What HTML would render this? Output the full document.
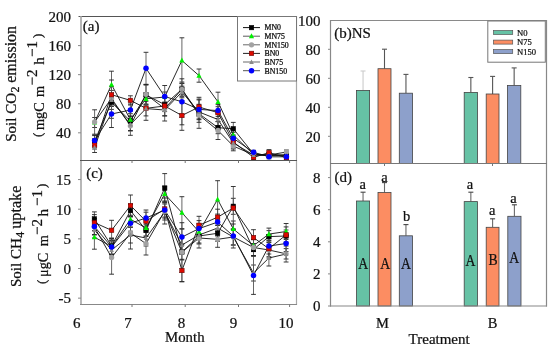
<!DOCTYPE html>
<html><head><meta charset="utf-8"><style>
html,body{margin:0;padding:0;background:#fff;width:550px;height:349px;overflow:hidden}
svg{display:block;filter:blur(0.35px);font-family:"Liberation Serif", serif}
text{stroke:#000;stroke-width:0.22px;paint-order:stroke}
</style></head><body>
<svg width="550" height="349" viewBox="0 0 550 349" font-family='"Liberation Serif", serif'>
<rect x="0" y="0" width="550" height="349" fill="#fff"/>
<line x1="94.6" y1="135" x2="94.6" y2="147" stroke="#555" stroke-width="0.9"/>
<line x1="92.2" y1="135" x2="97" y2="135" stroke="#222" stroke-width="0.9"/>
<line x1="92.2" y1="147" x2="97" y2="147" stroke="#222" stroke-width="0.9"/>
<line x1="111.5" y1="86.3" x2="111.5" y2="118.3" stroke="#555" stroke-width="0.9"/>
<line x1="109.1" y1="86.3" x2="113.9" y2="86.3" stroke="#222" stroke-width="0.9"/>
<line x1="109.1" y1="118.3" x2="113.9" y2="118.3" stroke="#222" stroke-width="0.9"/>
<line x1="130.4" y1="111" x2="130.4" y2="131" stroke="#555" stroke-width="0.9"/>
<line x1="128" y1="111" x2="132.8" y2="111" stroke="#222" stroke-width="0.9"/>
<line x1="128" y1="131" x2="132.8" y2="131" stroke="#222" stroke-width="0.9"/>
<line x1="146" y1="85" x2="146" y2="105" stroke="#555" stroke-width="0.9"/>
<line x1="143.6" y1="85" x2="148.4" y2="85" stroke="#222" stroke-width="0.9"/>
<line x1="143.6" y1="105" x2="148.4" y2="105" stroke="#222" stroke-width="0.9"/>
<line x1="164.7" y1="97.6" x2="164.7" y2="111.6" stroke="#555" stroke-width="0.9"/>
<line x1="162.3" y1="97.6" x2="167.1" y2="97.6" stroke="#222" stroke-width="0.9"/>
<line x1="162.3" y1="111.6" x2="167.1" y2="111.6" stroke="#222" stroke-width="0.9"/>
<line x1="181.9" y1="82" x2="181.9" y2="96.6" stroke="#555" stroke-width="0.9"/>
<line x1="179.5" y1="82" x2="184.3" y2="82" stroke="#222" stroke-width="0.9"/>
<line x1="179.5" y1="96.6" x2="184.3" y2="96.6" stroke="#222" stroke-width="0.9"/>
<line x1="199" y1="99.1" x2="199" y2="128.3" stroke="#555" stroke-width="0.9"/>
<line x1="196.6" y1="99.1" x2="201.4" y2="99.1" stroke="#222" stroke-width="0.9"/>
<line x1="196.6" y1="128.3" x2="201.4" y2="128.3" stroke="#222" stroke-width="0.9"/>
<line x1="218" y1="121.7" x2="218" y2="133.7" stroke="#555" stroke-width="0.9"/>
<line x1="215.6" y1="121.7" x2="220.4" y2="121.7" stroke="#222" stroke-width="0.9"/>
<line x1="215.6" y1="133.7" x2="220.4" y2="133.7" stroke="#222" stroke-width="0.9"/>
<line x1="233.3" y1="122.4" x2="233.3" y2="135" stroke="#555" stroke-width="0.9"/>
<line x1="230.9" y1="122.4" x2="235.7" y2="122.4" stroke="#222" stroke-width="0.9"/>
<line x1="230.9" y1="135" x2="235.7" y2="135" stroke="#222" stroke-width="0.9"/>
<line x1="253.6" y1="152" x2="253.6" y2="156" stroke="#555" stroke-width="0.9"/>
<line x1="251.2" y1="152" x2="256" y2="152" stroke="#222" stroke-width="0.9"/>
<line x1="251.2" y1="156" x2="256" y2="156" stroke="#222" stroke-width="0.9"/>
<line x1="269" y1="153" x2="269" y2="157" stroke="#555" stroke-width="0.9"/>
<line x1="266.6" y1="153" x2="271.4" y2="153" stroke="#222" stroke-width="0.9"/>
<line x1="266.6" y1="157" x2="271.4" y2="157" stroke="#222" stroke-width="0.9"/>
<line x1="286.4" y1="153" x2="286.4" y2="157" stroke="#555" stroke-width="0.9"/>
<line x1="284" y1="153" x2="288.8" y2="153" stroke="#222" stroke-width="0.9"/>
<line x1="284" y1="157" x2="288.8" y2="157" stroke="#222" stroke-width="0.9"/>
<line x1="94.6" y1="117.5" x2="94.6" y2="127.5" stroke="#555" stroke-width="0.9"/>
<line x1="92.2" y1="117.5" x2="97" y2="117.5" stroke="#222" stroke-width="0.9"/>
<line x1="92.2" y1="127.5" x2="97" y2="127.5" stroke="#222" stroke-width="0.9"/>
<line x1="111.5" y1="71.2" x2="111.5" y2="98" stroke="#555" stroke-width="0.9"/>
<line x1="109.1" y1="71.2" x2="113.9" y2="71.2" stroke="#222" stroke-width="0.9"/>
<line x1="109.1" y1="98" x2="113.9" y2="98" stroke="#222" stroke-width="0.9"/>
<line x1="130.4" y1="113.7" x2="130.4" y2="125.7" stroke="#555" stroke-width="0.9"/>
<line x1="128" y1="113.7" x2="132.8" y2="113.7" stroke="#222" stroke-width="0.9"/>
<line x1="128" y1="125.7" x2="132.8" y2="125.7" stroke="#222" stroke-width="0.9"/>
<line x1="146" y1="92.8" x2="146" y2="104.8" stroke="#555" stroke-width="0.9"/>
<line x1="143.6" y1="92.8" x2="148.4" y2="92.8" stroke="#222" stroke-width="0.9"/>
<line x1="143.6" y1="104.8" x2="148.4" y2="104.8" stroke="#222" stroke-width="0.9"/>
<line x1="164.7" y1="92" x2="164.7" y2="102" stroke="#555" stroke-width="0.9"/>
<line x1="162.3" y1="92" x2="167.1" y2="92" stroke="#222" stroke-width="0.9"/>
<line x1="162.3" y1="102" x2="167.1" y2="102" stroke="#222" stroke-width="0.9"/>
<line x1="181.9" y1="37.8" x2="181.9" y2="83.2" stroke="#555" stroke-width="0.9"/>
<line x1="179.5" y1="37.8" x2="184.3" y2="37.8" stroke="#222" stroke-width="0.9"/>
<line x1="179.5" y1="83.2" x2="184.3" y2="83.2" stroke="#222" stroke-width="0.9"/>
<line x1="199" y1="69" x2="199" y2="82.2" stroke="#555" stroke-width="0.9"/>
<line x1="196.6" y1="69" x2="201.4" y2="69" stroke="#222" stroke-width="0.9"/>
<line x1="196.6" y1="82.2" x2="201.4" y2="82.2" stroke="#222" stroke-width="0.9"/>
<line x1="218" y1="92.2" x2="218" y2="111.6" stroke="#555" stroke-width="0.9"/>
<line x1="215.6" y1="92.2" x2="220.4" y2="92.2" stroke="#222" stroke-width="0.9"/>
<line x1="215.6" y1="111.6" x2="220.4" y2="111.6" stroke="#222" stroke-width="0.9"/>
<line x1="233.3" y1="129" x2="233.3" y2="141" stroke="#555" stroke-width="0.9"/>
<line x1="230.9" y1="129" x2="235.7" y2="129" stroke="#222" stroke-width="0.9"/>
<line x1="230.9" y1="141" x2="235.7" y2="141" stroke="#222" stroke-width="0.9"/>
<line x1="253.6" y1="152.5" x2="253.6" y2="156.5" stroke="#555" stroke-width="0.9"/>
<line x1="251.2" y1="152.5" x2="256" y2="152.5" stroke="#222" stroke-width="0.9"/>
<line x1="251.2" y1="156.5" x2="256" y2="156.5" stroke="#222" stroke-width="0.9"/>
<line x1="269" y1="153" x2="269" y2="157" stroke="#555" stroke-width="0.9"/>
<line x1="266.6" y1="153" x2="271.4" y2="153" stroke="#222" stroke-width="0.9"/>
<line x1="266.6" y1="157" x2="271.4" y2="157" stroke="#222" stroke-width="0.9"/>
<line x1="286.4" y1="153.5" x2="286.4" y2="157.5" stroke="#555" stroke-width="0.9"/>
<line x1="284" y1="153.5" x2="288.8" y2="153.5" stroke="#222" stroke-width="0.9"/>
<line x1="284" y1="157.5" x2="288.8" y2="157.5" stroke="#222" stroke-width="0.9"/>
<line x1="94.6" y1="109.8" x2="94.6" y2="134.2" stroke="#555" stroke-width="0.9"/>
<line x1="92.2" y1="109.8" x2="97" y2="109.8" stroke="#222" stroke-width="0.9"/>
<line x1="92.2" y1="134.2" x2="97" y2="134.2" stroke="#222" stroke-width="0.9"/>
<line x1="111.5" y1="90.4" x2="111.5" y2="106.4" stroke="#555" stroke-width="0.9"/>
<line x1="109.1" y1="90.4" x2="113.9" y2="90.4" stroke="#222" stroke-width="0.9"/>
<line x1="109.1" y1="106.4" x2="113.9" y2="106.4" stroke="#222" stroke-width="0.9"/>
<line x1="130.4" y1="116.3" x2="130.4" y2="135.3" stroke="#555" stroke-width="0.9"/>
<line x1="128" y1="116.3" x2="132.8" y2="116.3" stroke="#222" stroke-width="0.9"/>
<line x1="128" y1="135.3" x2="132.8" y2="135.3" stroke="#222" stroke-width="0.9"/>
<line x1="146" y1="84.6" x2="146" y2="104" stroke="#555" stroke-width="0.9"/>
<line x1="143.6" y1="84.6" x2="148.4" y2="84.6" stroke="#222" stroke-width="0.9"/>
<line x1="143.6" y1="104" x2="148.4" y2="104" stroke="#222" stroke-width="0.9"/>
<line x1="164.7" y1="96.4" x2="164.7" y2="121" stroke="#555" stroke-width="0.9"/>
<line x1="162.3" y1="96.4" x2="167.1" y2="96.4" stroke="#222" stroke-width="0.9"/>
<line x1="162.3" y1="121" x2="167.1" y2="121" stroke="#222" stroke-width="0.9"/>
<line x1="181.9" y1="83.6" x2="181.9" y2="95" stroke="#555" stroke-width="0.9"/>
<line x1="179.5" y1="83.6" x2="184.3" y2="83.6" stroke="#222" stroke-width="0.9"/>
<line x1="179.5" y1="95" x2="184.3" y2="95" stroke="#222" stroke-width="0.9"/>
<line x1="199" y1="107.7" x2="199" y2="122.3" stroke="#555" stroke-width="0.9"/>
<line x1="196.6" y1="107.7" x2="201.4" y2="107.7" stroke="#222" stroke-width="0.9"/>
<line x1="196.6" y1="122.3" x2="201.4" y2="122.3" stroke="#222" stroke-width="0.9"/>
<line x1="218" y1="121.5" x2="218" y2="139.5" stroke="#555" stroke-width="0.9"/>
<line x1="215.6" y1="121.5" x2="220.4" y2="121.5" stroke="#222" stroke-width="0.9"/>
<line x1="215.6" y1="139.5" x2="220.4" y2="139.5" stroke="#222" stroke-width="0.9"/>
<line x1="233.3" y1="141.2" x2="233.3" y2="150.8" stroke="#555" stroke-width="0.9"/>
<line x1="230.9" y1="141.2" x2="235.7" y2="141.2" stroke="#222" stroke-width="0.9"/>
<line x1="230.9" y1="150.8" x2="235.7" y2="150.8" stroke="#222" stroke-width="0.9"/>
<line x1="253.6" y1="153" x2="253.6" y2="157" stroke="#555" stroke-width="0.9"/>
<line x1="251.2" y1="153" x2="256" y2="153" stroke="#222" stroke-width="0.9"/>
<line x1="251.2" y1="157" x2="256" y2="157" stroke="#222" stroke-width="0.9"/>
<line x1="269" y1="153" x2="269" y2="157" stroke="#555" stroke-width="0.9"/>
<line x1="266.6" y1="153" x2="271.4" y2="153" stroke="#222" stroke-width="0.9"/>
<line x1="266.6" y1="157" x2="271.4" y2="157" stroke="#222" stroke-width="0.9"/>
<line x1="286.4" y1="150" x2="286.4" y2="154" stroke="#555" stroke-width="0.9"/>
<line x1="284" y1="150" x2="288.8" y2="150" stroke="#222" stroke-width="0.9"/>
<line x1="284" y1="154" x2="288.8" y2="154" stroke="#222" stroke-width="0.9"/>
<line x1="94.6" y1="141" x2="94.6" y2="149" stroke="#555" stroke-width="0.9"/>
<line x1="92.2" y1="141" x2="97" y2="141" stroke="#222" stroke-width="0.9"/>
<line x1="92.2" y1="149" x2="97" y2="149" stroke="#222" stroke-width="0.9"/>
<line x1="111.5" y1="80" x2="111.5" y2="109.4" stroke="#555" stroke-width="0.9"/>
<line x1="109.1" y1="80" x2="113.9" y2="80" stroke="#222" stroke-width="0.9"/>
<line x1="109.1" y1="109.4" x2="113.9" y2="109.4" stroke="#222" stroke-width="0.9"/>
<line x1="130.4" y1="95.8" x2="130.4" y2="105" stroke="#555" stroke-width="0.9"/>
<line x1="128" y1="95.8" x2="132.8" y2="95.8" stroke="#222" stroke-width="0.9"/>
<line x1="128" y1="105" x2="132.8" y2="105" stroke="#222" stroke-width="0.9"/>
<line x1="146" y1="96.3" x2="146" y2="120.3" stroke="#555" stroke-width="0.9"/>
<line x1="143.6" y1="96.3" x2="148.4" y2="96.3" stroke="#222" stroke-width="0.9"/>
<line x1="143.6" y1="120.3" x2="148.4" y2="120.3" stroke="#222" stroke-width="0.9"/>
<line x1="164.7" y1="96.3" x2="164.7" y2="115.7" stroke="#555" stroke-width="0.9"/>
<line x1="162.3" y1="96.3" x2="167.1" y2="96.3" stroke="#222" stroke-width="0.9"/>
<line x1="162.3" y1="115.7" x2="167.1" y2="115.7" stroke="#222" stroke-width="0.9"/>
<line x1="181.9" y1="100.7" x2="181.9" y2="130.3" stroke="#555" stroke-width="0.9"/>
<line x1="179.5" y1="100.7" x2="184.3" y2="100.7" stroke="#222" stroke-width="0.9"/>
<line x1="179.5" y1="130.3" x2="184.3" y2="130.3" stroke="#222" stroke-width="0.9"/>
<line x1="199" y1="97.3" x2="199" y2="116.7" stroke="#555" stroke-width="0.9"/>
<line x1="196.6" y1="97.3" x2="201.4" y2="97.3" stroke="#222" stroke-width="0.9"/>
<line x1="196.6" y1="116.7" x2="201.4" y2="116.7" stroke="#222" stroke-width="0.9"/>
<line x1="218" y1="106.7" x2="218" y2="118.7" stroke="#555" stroke-width="0.9"/>
<line x1="215.6" y1="106.7" x2="220.4" y2="106.7" stroke="#222" stroke-width="0.9"/>
<line x1="215.6" y1="118.7" x2="220.4" y2="118.7" stroke="#222" stroke-width="0.9"/>
<line x1="233.3" y1="136" x2="233.3" y2="148" stroke="#555" stroke-width="0.9"/>
<line x1="230.9" y1="136" x2="235.7" y2="136" stroke="#222" stroke-width="0.9"/>
<line x1="230.9" y1="148" x2="235.7" y2="148" stroke="#222" stroke-width="0.9"/>
<line x1="253.6" y1="155.4" x2="253.6" y2="159.4" stroke="#555" stroke-width="0.9"/>
<line x1="251.2" y1="155.4" x2="256" y2="155.4" stroke="#222" stroke-width="0.9"/>
<line x1="251.2" y1="159.4" x2="256" y2="159.4" stroke="#222" stroke-width="0.9"/>
<line x1="269" y1="149.6" x2="269" y2="155.6" stroke="#555" stroke-width="0.9"/>
<line x1="266.6" y1="149.6" x2="271.4" y2="149.6" stroke="#222" stroke-width="0.9"/>
<line x1="266.6" y1="155.6" x2="271.4" y2="155.6" stroke="#222" stroke-width="0.9"/>
<line x1="286.4" y1="155.7" x2="286.4" y2="159.7" stroke="#555" stroke-width="0.9"/>
<line x1="284" y1="155.7" x2="288.8" y2="155.7" stroke="#222" stroke-width="0.9"/>
<line x1="284" y1="159.7" x2="288.8" y2="159.7" stroke="#222" stroke-width="0.9"/>
<line x1="94.6" y1="142.5" x2="94.6" y2="152.5" stroke="#555" stroke-width="0.9"/>
<line x1="92.2" y1="142.5" x2="97" y2="142.5" stroke="#222" stroke-width="0.9"/>
<line x1="92.2" y1="152.5" x2="97" y2="152.5" stroke="#222" stroke-width="0.9"/>
<line x1="111.5" y1="94" x2="111.5" y2="106" stroke="#555" stroke-width="0.9"/>
<line x1="109.1" y1="94" x2="113.9" y2="94" stroke="#222" stroke-width="0.9"/>
<line x1="109.1" y1="106" x2="113.9" y2="106" stroke="#222" stroke-width="0.9"/>
<line x1="130.4" y1="118.5" x2="130.4" y2="130.5" stroke="#555" stroke-width="0.9"/>
<line x1="128" y1="118.5" x2="132.8" y2="118.5" stroke="#222" stroke-width="0.9"/>
<line x1="128" y1="130.5" x2="132.8" y2="130.5" stroke="#222" stroke-width="0.9"/>
<line x1="146" y1="101.3" x2="146" y2="115.9" stroke="#555" stroke-width="0.9"/>
<line x1="143.6" y1="101.3" x2="148.4" y2="101.3" stroke="#222" stroke-width="0.9"/>
<line x1="143.6" y1="115.9" x2="148.4" y2="115.9" stroke="#222" stroke-width="0.9"/>
<line x1="164.7" y1="104" x2="164.7" y2="116" stroke="#555" stroke-width="0.9"/>
<line x1="162.3" y1="104" x2="167.1" y2="104" stroke="#222" stroke-width="0.9"/>
<line x1="162.3" y1="116" x2="167.1" y2="116" stroke="#222" stroke-width="0.9"/>
<line x1="181.9" y1="86.2" x2="181.9" y2="97.8" stroke="#555" stroke-width="0.9"/>
<line x1="179.5" y1="86.2" x2="184.3" y2="86.2" stroke="#222" stroke-width="0.9"/>
<line x1="179.5" y1="97.8" x2="184.3" y2="97.8" stroke="#222" stroke-width="0.9"/>
<line x1="199" y1="104.3" x2="199" y2="119.7" stroke="#555" stroke-width="0.9"/>
<line x1="196.6" y1="104.3" x2="201.4" y2="104.3" stroke="#222" stroke-width="0.9"/>
<line x1="196.6" y1="119.7" x2="201.4" y2="119.7" stroke="#222" stroke-width="0.9"/>
<line x1="218" y1="113.5" x2="218" y2="125.5" stroke="#555" stroke-width="0.9"/>
<line x1="215.6" y1="113.5" x2="220.4" y2="113.5" stroke="#222" stroke-width="0.9"/>
<line x1="215.6" y1="125.5" x2="220.4" y2="125.5" stroke="#222" stroke-width="0.9"/>
<line x1="233.3" y1="137" x2="233.3" y2="149" stroke="#555" stroke-width="0.9"/>
<line x1="230.9" y1="137" x2="235.7" y2="137" stroke="#222" stroke-width="0.9"/>
<line x1="230.9" y1="149" x2="235.7" y2="149" stroke="#222" stroke-width="0.9"/>
<line x1="253.6" y1="153" x2="253.6" y2="157" stroke="#555" stroke-width="0.9"/>
<line x1="251.2" y1="153" x2="256" y2="153" stroke="#222" stroke-width="0.9"/>
<line x1="251.2" y1="157" x2="256" y2="157" stroke="#222" stroke-width="0.9"/>
<line x1="269" y1="153.5" x2="269" y2="157.5" stroke="#555" stroke-width="0.9"/>
<line x1="266.6" y1="153.5" x2="271.4" y2="153.5" stroke="#222" stroke-width="0.9"/>
<line x1="266.6" y1="157.5" x2="271.4" y2="157.5" stroke="#222" stroke-width="0.9"/>
<line x1="286.4" y1="153" x2="286.4" y2="157" stroke="#555" stroke-width="0.9"/>
<line x1="284" y1="153" x2="288.8" y2="153" stroke="#222" stroke-width="0.9"/>
<line x1="284" y1="157" x2="288.8" y2="157" stroke="#222" stroke-width="0.9"/>
<line x1="94.6" y1="135.6" x2="94.6" y2="145.6" stroke="#555" stroke-width="0.9"/>
<line x1="92.2" y1="135.6" x2="97" y2="135.6" stroke="#222" stroke-width="0.9"/>
<line x1="92.2" y1="145.6" x2="97" y2="145.6" stroke="#222" stroke-width="0.9"/>
<line x1="111.5" y1="100.5" x2="111.5" y2="127.5" stroke="#555" stroke-width="0.9"/>
<line x1="109.1" y1="100.5" x2="113.9" y2="100.5" stroke="#222" stroke-width="0.9"/>
<line x1="109.1" y1="127.5" x2="113.9" y2="127.5" stroke="#222" stroke-width="0.9"/>
<line x1="130.4" y1="104" x2="130.4" y2="116" stroke="#555" stroke-width="0.9"/>
<line x1="128" y1="104" x2="132.8" y2="104" stroke="#222" stroke-width="0.9"/>
<line x1="128" y1="116" x2="132.8" y2="116" stroke="#222" stroke-width="0.9"/>
<line x1="146" y1="52.3" x2="146" y2="84.3" stroke="#555" stroke-width="0.9"/>
<line x1="143.6" y1="52.3" x2="148.4" y2="52.3" stroke="#222" stroke-width="0.9"/>
<line x1="143.6" y1="84.3" x2="148.4" y2="84.3" stroke="#222" stroke-width="0.9"/>
<line x1="164.7" y1="85.5" x2="164.7" y2="107.5" stroke="#555" stroke-width="0.9"/>
<line x1="162.3" y1="85.5" x2="167.1" y2="85.5" stroke="#222" stroke-width="0.9"/>
<line x1="162.3" y1="107.5" x2="167.1" y2="107.5" stroke="#222" stroke-width="0.9"/>
<line x1="181.9" y1="78.8" x2="181.9" y2="124.8" stroke="#555" stroke-width="0.9"/>
<line x1="179.5" y1="78.8" x2="184.3" y2="78.8" stroke="#222" stroke-width="0.9"/>
<line x1="179.5" y1="124.8" x2="184.3" y2="124.8" stroke="#222" stroke-width="0.9"/>
<line x1="199" y1="99.9" x2="199" y2="118.9" stroke="#555" stroke-width="0.9"/>
<line x1="196.6" y1="99.9" x2="201.4" y2="99.9" stroke="#222" stroke-width="0.9"/>
<line x1="196.6" y1="118.9" x2="201.4" y2="118.9" stroke="#222" stroke-width="0.9"/>
<line x1="218" y1="104.6" x2="218" y2="116.6" stroke="#555" stroke-width="0.9"/>
<line x1="215.6" y1="104.6" x2="220.4" y2="104.6" stroke="#222" stroke-width="0.9"/>
<line x1="215.6" y1="116.6" x2="220.4" y2="116.6" stroke="#222" stroke-width="0.9"/>
<line x1="233.3" y1="132.3" x2="233.3" y2="144.3" stroke="#555" stroke-width="0.9"/>
<line x1="230.9" y1="132.3" x2="235.7" y2="132.3" stroke="#222" stroke-width="0.9"/>
<line x1="230.9" y1="144.3" x2="235.7" y2="144.3" stroke="#222" stroke-width="0.9"/>
<line x1="253.6" y1="150.3" x2="253.6" y2="154.3" stroke="#555" stroke-width="0.9"/>
<line x1="251.2" y1="150.3" x2="256" y2="150.3" stroke="#222" stroke-width="0.9"/>
<line x1="251.2" y1="154.3" x2="256" y2="154.3" stroke="#222" stroke-width="0.9"/>
<line x1="269" y1="154.8" x2="269" y2="158.8" stroke="#555" stroke-width="0.9"/>
<line x1="266.6" y1="154.8" x2="271.4" y2="154.8" stroke="#222" stroke-width="0.9"/>
<line x1="266.6" y1="158.8" x2="271.4" y2="158.8" stroke="#222" stroke-width="0.9"/>
<line x1="286.4" y1="154.8" x2="286.4" y2="158.8" stroke="#555" stroke-width="0.9"/>
<line x1="284" y1="154.8" x2="288.8" y2="154.8" stroke="#222" stroke-width="0.9"/>
<line x1="284" y1="158.8" x2="288.8" y2="158.8" stroke="#222" stroke-width="0.9"/>
<polyline points="94.6,141 111.5,102.3 130.4,121 146,95 164.7,104.6 181.9,89.3 199,113.7 218,127.7 233.3,128.7 253.6,154 269,155 286.4,155" fill="none" stroke="#111" stroke-width="0.9"/>
<polyline points="94.6,122.5 111.5,84.6 130.4,119.7 146,98.8 164.7,97.0 181.9,60.5 199,75.6 218,101.9 233.3,135 253.6,154.5 269,155 286.4,155.5" fill="none" stroke="#111" stroke-width="0.9"/>
<polyline points="94.6,122 111.5,98.4 130.4,125.8 146,94.3 164.7,108.7 181.9,89.3 199,115 218,130.5 233.3,146 253.6,155 269,155 286.4,152" fill="none" stroke="#111" stroke-width="0.9"/>
<polyline points="94.6,145 111.5,94.7 130.4,100.4 146,108.3 164.7,106 181.9,115.5 199,107 218,112.7 233.3,142 253.6,157.4 269,152.6 286.4,157.7" fill="none" stroke="#111" stroke-width="0.9"/>
<polyline points="94.6,147.5 111.5,100 130.4,124.5 146,108.6 164.7,110 181.9,92 199,112 218,119.5 233.3,143 253.6,155 269,155.5 286.4,155" fill="none" stroke="#111" stroke-width="0.9"/>
<polyline points="94.6,140.6 111.5,114 130.4,110 146,68.3 164.7,96.5 181.9,101.8 199,109.4 218,110.6 233.3,138.3 253.6,152.3 269,156.8 286.4,156.8" fill="none" stroke="#111" stroke-width="0.9"/>
<rect x="92.35" y="138.75" width="4.5" height="4.5" fill="#000000" stroke="#000" stroke-width="0.5"/>
<rect x="109.25" y="100.05" width="4.5" height="4.5" fill="#000000" stroke="#000" stroke-width="0.5"/>
<rect x="128.15" y="118.75" width="4.5" height="4.5" fill="#000000" stroke="#000" stroke-width="0.5"/>
<rect x="143.75" y="92.75" width="4.5" height="4.5" fill="#000000" stroke="#000" stroke-width="0.5"/>
<rect x="162.45" y="102.35" width="4.5" height="4.5" fill="#000000" stroke="#000" stroke-width="0.5"/>
<rect x="179.65" y="87.05" width="4.5" height="4.5" fill="#000000" stroke="#000" stroke-width="0.5"/>
<rect x="196.75" y="111.45" width="4.5" height="4.5" fill="#000000" stroke="#000" stroke-width="0.5"/>
<rect x="215.75" y="125.45" width="4.5" height="4.5" fill="#000000" stroke="#000" stroke-width="0.5"/>
<rect x="231.05" y="126.45" width="4.5" height="4.5" fill="#000000" stroke="#000" stroke-width="0.5"/>
<rect x="251.35" y="151.75" width="4.5" height="4.5" fill="#000000" stroke="#000" stroke-width="0.5"/>
<rect x="266.75" y="152.75" width="4.5" height="4.5" fill="#000000" stroke="#000" stroke-width="0.5"/>
<rect x="284.15" y="152.75" width="4.5" height="4.5" fill="#000000" stroke="#000" stroke-width="0.5"/>
<path d="M94.60 119.60L97.20 124.60L92.00 124.60Z" fill="#00f000"/>
<path d="M111.50 81.70L114.10 86.70L108.90 86.70Z" fill="#00f000"/>
<path d="M130.40 116.80L133.00 121.80L127.80 121.80Z" fill="#00f000"/>
<path d="M146.00 95.90L148.60 100.90L143.40 100.90Z" fill="#00f000"/>
<path d="M164.70 94.10L167.30 99.10L162.10 99.10Z" fill="#00f000"/>
<path d="M181.90 57.60L184.50 62.60L179.30 62.60Z" fill="#00f000"/>
<path d="M199.00 72.70L201.60 77.70L196.40 77.70Z" fill="#00f000"/>
<path d="M218.00 99.00L220.60 104.00L215.40 104.00Z" fill="#00f000"/>
<path d="M233.30 132.10L235.90 137.10L230.70 137.10Z" fill="#00f000"/>
<path d="M253.60 151.60L256.20 156.60L251.00 156.60Z" fill="#00f000"/>
<path d="M269.00 152.10L271.60 157.10L266.40 157.10Z" fill="#00f000"/>
<path d="M286.40 152.60L289.00 157.60L283.80 157.60Z" fill="#00f000"/>
<circle cx="94.6" cy="122" r="2.65" fill="#a2a2a2"/>
<circle cx="111.5" cy="98.4" r="2.65" fill="#a2a2a2"/>
<circle cx="130.4" cy="125.8" r="2.65" fill="#a2a2a2"/>
<circle cx="146" cy="94.3" r="2.65" fill="#a2a2a2"/>
<circle cx="164.7" cy="108.7" r="2.65" fill="#a2a2a2"/>
<circle cx="181.9" cy="89.3" r="2.65" fill="#a2a2a2"/>
<circle cx="199" cy="115" r="2.65" fill="#a2a2a2"/>
<circle cx="218" cy="130.5" r="2.65" fill="#a2a2a2"/>
<circle cx="233.3" cy="146" r="2.65" fill="#a2a2a2"/>
<circle cx="253.6" cy="155" r="2.65" fill="#a2a2a2"/>
<circle cx="269" cy="155" r="2.65" fill="#a2a2a2"/>
<circle cx="286.4" cy="152" r="2.65" fill="#a2a2a2"/>
<rect x="92.35" y="142.75" width="4.5" height="4.5" fill="#dd0a00" stroke="#500" stroke-width="0.5"/>
<rect x="109.25" y="92.45" width="4.5" height="4.5" fill="#dd0a00" stroke="#500" stroke-width="0.5"/>
<rect x="128.15" y="98.15" width="4.5" height="4.5" fill="#dd0a00" stroke="#500" stroke-width="0.5"/>
<rect x="143.75" y="106.05" width="4.5" height="4.5" fill="#dd0a00" stroke="#500" stroke-width="0.5"/>
<rect x="162.45" y="103.75" width="4.5" height="4.5" fill="#dd0a00" stroke="#500" stroke-width="0.5"/>
<rect x="179.65" y="113.25" width="4.5" height="4.5" fill="#dd0a00" stroke="#500" stroke-width="0.5"/>
<rect x="196.75" y="104.75" width="4.5" height="4.5" fill="#dd0a00" stroke="#500" stroke-width="0.5"/>
<rect x="215.75" y="110.45" width="4.5" height="4.5" fill="#dd0a00" stroke="#500" stroke-width="0.5"/>
<rect x="231.05" y="139.75" width="4.5" height="4.5" fill="#dd0a00" stroke="#500" stroke-width="0.5"/>
<rect x="251.35" y="155.15" width="4.5" height="4.5" fill="#dd0a00" stroke="#500" stroke-width="0.5"/>
<rect x="266.75" y="150.35" width="4.5" height="4.5" fill="#dd0a00" stroke="#500" stroke-width="0.5"/>
<rect x="284.15" y="155.45" width="4.5" height="4.5" fill="#dd0a00" stroke="#500" stroke-width="0.5"/>
<path d="M94.60 144.90L96.90 149.40L92.30 149.40Z" fill="#8a8a8a"/>
<path d="M111.50 97.40L113.80 101.90L109.20 101.90Z" fill="#8a8a8a"/>
<path d="M130.40 121.90L132.70 126.40L128.10 126.40Z" fill="#8a8a8a"/>
<path d="M146.00 106.00L148.30 110.50L143.70 110.50Z" fill="#8a8a8a"/>
<path d="M164.70 107.40L167.00 111.90L162.40 111.90Z" fill="#8a8a8a"/>
<path d="M181.90 89.40L184.20 93.90L179.60 93.90Z" fill="#8a8a8a"/>
<path d="M199.00 109.40L201.30 113.90L196.70 113.90Z" fill="#8a8a8a"/>
<path d="M218.00 116.90L220.30 121.40L215.70 121.40Z" fill="#8a8a8a"/>
<path d="M233.30 140.40L235.60 144.90L231.00 144.90Z" fill="#8a8a8a"/>
<path d="M253.60 152.40L255.90 156.90L251.30 156.90Z" fill="#8a8a8a"/>
<path d="M269.00 152.90L271.30 157.40L266.70 157.40Z" fill="#8a8a8a"/>
<path d="M286.40 152.40L288.70 156.90L284.10 156.90Z" fill="#8a8a8a"/>
<circle cx="94.6" cy="140.6" r="2.75" fill="#0000ff"/>
<circle cx="111.5" cy="114" r="2.75" fill="#0000ff"/>
<circle cx="130.4" cy="110" r="2.75" fill="#0000ff"/>
<circle cx="146" cy="68.3" r="2.75" fill="#0000ff"/>
<circle cx="164.7" cy="96.5" r="2.75" fill="#0000ff"/>
<circle cx="181.9" cy="101.8" r="2.75" fill="#0000ff"/>
<circle cx="199" cy="109.4" r="2.75" fill="#0000ff"/>
<circle cx="218" cy="110.6" r="2.75" fill="#0000ff"/>
<circle cx="233.3" cy="138.3" r="2.75" fill="#0000ff"/>
<circle cx="253.6" cy="152.3" r="2.75" fill="#0000ff"/>
<circle cx="269" cy="156.8" r="2.75" fill="#0000ff"/>
<circle cx="286.4" cy="156.8" r="2.75" fill="#0000ff"/>
<line x1="94.4" y1="211.9" x2="94.4" y2="225.9" stroke="#555" stroke-width="0.9"/>
<line x1="92" y1="211.9" x2="96.8" y2="211.9" stroke="#222" stroke-width="0.9"/>
<line x1="92" y1="225.9" x2="96.8" y2="225.9" stroke="#222" stroke-width="0.9"/>
<line x1="111.6" y1="238" x2="111.6" y2="254" stroke="#555" stroke-width="0.9"/>
<line x1="109.2" y1="238" x2="114" y2="238" stroke="#222" stroke-width="0.9"/>
<line x1="109.2" y1="254" x2="114" y2="254" stroke="#222" stroke-width="0.9"/>
<line x1="130.5" y1="204.5" x2="130.5" y2="216.5" stroke="#555" stroke-width="0.9"/>
<line x1="128.1" y1="204.5" x2="132.9" y2="204.5" stroke="#222" stroke-width="0.9"/>
<line x1="128.1" y1="216.5" x2="132.9" y2="216.5" stroke="#222" stroke-width="0.9"/>
<line x1="146" y1="224.3" x2="146" y2="236.3" stroke="#555" stroke-width="0.9"/>
<line x1="143.6" y1="224.3" x2="148.4" y2="224.3" stroke="#222" stroke-width="0.9"/>
<line x1="143.6" y1="236.3" x2="148.4" y2="236.3" stroke="#222" stroke-width="0.9"/>
<line x1="164.7" y1="173.6" x2="164.7" y2="202.8" stroke="#555" stroke-width="0.9"/>
<line x1="162.3" y1="173.6" x2="167.1" y2="173.6" stroke="#222" stroke-width="0.9"/>
<line x1="162.3" y1="202.8" x2="167.1" y2="202.8" stroke="#222" stroke-width="0.9"/>
<line x1="181.9" y1="244" x2="181.9" y2="260" stroke="#555" stroke-width="0.9"/>
<line x1="179.5" y1="244" x2="184.3" y2="244" stroke="#222" stroke-width="0.9"/>
<line x1="179.5" y1="260" x2="184.3" y2="260" stroke="#222" stroke-width="0.9"/>
<line x1="199" y1="228" x2="199" y2="244" stroke="#555" stroke-width="0.9"/>
<line x1="196.6" y1="228" x2="201.4" y2="228" stroke="#222" stroke-width="0.9"/>
<line x1="196.6" y1="244" x2="201.4" y2="244" stroke="#222" stroke-width="0.9"/>
<line x1="217.6" y1="225.3" x2="217.6" y2="241.3" stroke="#555" stroke-width="0.9"/>
<line x1="215.2" y1="225.3" x2="220" y2="225.3" stroke="#222" stroke-width="0.9"/>
<line x1="215.2" y1="241.3" x2="220" y2="241.3" stroke="#222" stroke-width="0.9"/>
<line x1="233.3" y1="198.3" x2="233.3" y2="214.3" stroke="#555" stroke-width="0.9"/>
<line x1="230.9" y1="198.3" x2="235.7" y2="198.3" stroke="#222" stroke-width="0.9"/>
<line x1="230.9" y1="214.3" x2="235.7" y2="214.3" stroke="#222" stroke-width="0.9"/>
<line x1="253.5" y1="243.5" x2="253.5" y2="255.5" stroke="#555" stroke-width="0.9"/>
<line x1="251.1" y1="243.5" x2="255.9" y2="243.5" stroke="#222" stroke-width="0.9"/>
<line x1="251.1" y1="255.5" x2="255.9" y2="255.5" stroke="#222" stroke-width="0.9"/>
<line x1="268.9" y1="230.6" x2="268.9" y2="242.6" stroke="#555" stroke-width="0.9"/>
<line x1="266.5" y1="230.6" x2="271.3" y2="230.6" stroke="#222" stroke-width="0.9"/>
<line x1="266.5" y1="242.6" x2="271.3" y2="242.6" stroke="#222" stroke-width="0.9"/>
<line x1="286.1" y1="230" x2="286.1" y2="242" stroke="#555" stroke-width="0.9"/>
<line x1="283.7" y1="230" x2="288.5" y2="230" stroke="#222" stroke-width="0.9"/>
<line x1="283.7" y1="242" x2="288.5" y2="242" stroke="#222" stroke-width="0.9"/>
<line x1="94.4" y1="225.2" x2="94.4" y2="249.2" stroke="#555" stroke-width="0.9"/>
<line x1="92" y1="225.2" x2="96.8" y2="225.2" stroke="#222" stroke-width="0.9"/>
<line x1="92" y1="249.2" x2="96.8" y2="249.2" stroke="#222" stroke-width="0.9"/>
<line x1="111.6" y1="238.5" x2="111.6" y2="254.5" stroke="#555" stroke-width="0.9"/>
<line x1="109.2" y1="238.5" x2="114" y2="238.5" stroke="#222" stroke-width="0.9"/>
<line x1="109.2" y1="254.5" x2="114" y2="254.5" stroke="#222" stroke-width="0.9"/>
<line x1="130.5" y1="211.3" x2="130.5" y2="227.3" stroke="#555" stroke-width="0.9"/>
<line x1="128.1" y1="211.3" x2="132.9" y2="211.3" stroke="#222" stroke-width="0.9"/>
<line x1="128.1" y1="227.3" x2="132.9" y2="227.3" stroke="#222" stroke-width="0.9"/>
<line x1="146" y1="220" x2="146" y2="236" stroke="#555" stroke-width="0.9"/>
<line x1="143.6" y1="220" x2="148.4" y2="220" stroke="#222" stroke-width="0.9"/>
<line x1="143.6" y1="236" x2="148.4" y2="236" stroke="#222" stroke-width="0.9"/>
<line x1="164.7" y1="186" x2="164.7" y2="202" stroke="#555" stroke-width="0.9"/>
<line x1="162.3" y1="186" x2="167.1" y2="186" stroke="#222" stroke-width="0.9"/>
<line x1="162.3" y1="202" x2="167.1" y2="202" stroke="#222" stroke-width="0.9"/>
<line x1="181.9" y1="196.7" x2="181.9" y2="228.7" stroke="#555" stroke-width="0.9"/>
<line x1="179.5" y1="196.7" x2="184.3" y2="196.7" stroke="#222" stroke-width="0.9"/>
<line x1="179.5" y1="228.7" x2="184.3" y2="228.7" stroke="#222" stroke-width="0.9"/>
<line x1="199" y1="223.8" x2="199" y2="239.8" stroke="#555" stroke-width="0.9"/>
<line x1="196.6" y1="223.8" x2="201.4" y2="223.8" stroke="#222" stroke-width="0.9"/>
<line x1="196.6" y1="239.8" x2="201.4" y2="239.8" stroke="#222" stroke-width="0.9"/>
<line x1="217.6" y1="180.7" x2="217.6" y2="218.1" stroke="#555" stroke-width="0.9"/>
<line x1="215.2" y1="180.7" x2="220" y2="180.7" stroke="#222" stroke-width="0.9"/>
<line x1="215.2" y1="218.1" x2="220" y2="218.1" stroke="#222" stroke-width="0.9"/>
<line x1="233.3" y1="221" x2="233.3" y2="237" stroke="#555" stroke-width="0.9"/>
<line x1="230.9" y1="221" x2="235.7" y2="221" stroke="#222" stroke-width="0.9"/>
<line x1="230.9" y1="237" x2="235.7" y2="237" stroke="#222" stroke-width="0.9"/>
<line x1="253.5" y1="239.6" x2="253.5" y2="251.6" stroke="#555" stroke-width="0.9"/>
<line x1="251.1" y1="239.6" x2="255.9" y2="239.6" stroke="#222" stroke-width="0.9"/>
<line x1="251.1" y1="251.6" x2="255.9" y2="251.6" stroke="#222" stroke-width="0.9"/>
<line x1="268.9" y1="228.1" x2="268.9" y2="240.1" stroke="#555" stroke-width="0.9"/>
<line x1="266.5" y1="228.1" x2="271.3" y2="228.1" stroke="#222" stroke-width="0.9"/>
<line x1="266.5" y1="240.1" x2="271.3" y2="240.1" stroke="#222" stroke-width="0.9"/>
<line x1="286.1" y1="223.5" x2="286.1" y2="239.5" stroke="#555" stroke-width="0.9"/>
<line x1="283.7" y1="223.5" x2="288.5" y2="223.5" stroke="#222" stroke-width="0.9"/>
<line x1="283.7" y1="239.5" x2="288.5" y2="239.5" stroke="#222" stroke-width="0.9"/>
<line x1="94.4" y1="219" x2="94.4" y2="235" stroke="#555" stroke-width="0.9"/>
<line x1="92" y1="219" x2="96.8" y2="219" stroke="#222" stroke-width="0.9"/>
<line x1="92" y1="235" x2="96.8" y2="235" stroke="#222" stroke-width="0.9"/>
<line x1="111.6" y1="240.8" x2="111.6" y2="274.2" stroke="#555" stroke-width="0.9"/>
<line x1="109.2" y1="240.8" x2="114" y2="240.8" stroke="#222" stroke-width="0.9"/>
<line x1="109.2" y1="274.2" x2="114" y2="274.2" stroke="#222" stroke-width="0.9"/>
<line x1="130.5" y1="217" x2="130.5" y2="249" stroke="#555" stroke-width="0.9"/>
<line x1="128.1" y1="217" x2="132.9" y2="217" stroke="#222" stroke-width="0.9"/>
<line x1="128.1" y1="249" x2="132.9" y2="249" stroke="#222" stroke-width="0.9"/>
<line x1="146" y1="232.4" x2="146" y2="255" stroke="#555" stroke-width="0.9"/>
<line x1="143.6" y1="232.4" x2="148.4" y2="232.4" stroke="#222" stroke-width="0.9"/>
<line x1="143.6" y1="255" x2="148.4" y2="255" stroke="#222" stroke-width="0.9"/>
<line x1="164.7" y1="198" x2="164.7" y2="224" stroke="#555" stroke-width="0.9"/>
<line x1="162.3" y1="198" x2="167.1" y2="198" stroke="#222" stroke-width="0.9"/>
<line x1="162.3" y1="224" x2="167.1" y2="224" stroke="#222" stroke-width="0.9"/>
<line x1="181.9" y1="222.7" x2="181.9" y2="281.7" stroke="#555" stroke-width="0.9"/>
<line x1="179.5" y1="222.7" x2="184.3" y2="222.7" stroke="#222" stroke-width="0.9"/>
<line x1="179.5" y1="281.7" x2="184.3" y2="281.7" stroke="#222" stroke-width="0.9"/>
<line x1="199" y1="228" x2="199" y2="248" stroke="#555" stroke-width="0.9"/>
<line x1="196.6" y1="228" x2="201.4" y2="228" stroke="#222" stroke-width="0.9"/>
<line x1="196.6" y1="248" x2="201.4" y2="248" stroke="#222" stroke-width="0.9"/>
<line x1="217.6" y1="231.3" x2="217.6" y2="247.3" stroke="#555" stroke-width="0.9"/>
<line x1="215.2" y1="231.3" x2="220" y2="231.3" stroke="#222" stroke-width="0.9"/>
<line x1="215.2" y1="247.3" x2="220" y2="247.3" stroke="#222" stroke-width="0.9"/>
<line x1="233.3" y1="229" x2="233.3" y2="245" stroke="#555" stroke-width="0.9"/>
<line x1="230.9" y1="229" x2="235.7" y2="229" stroke="#222" stroke-width="0.9"/>
<line x1="230.9" y1="245" x2="235.7" y2="245" stroke="#222" stroke-width="0.9"/>
<line x1="253.5" y1="239.5" x2="253.5" y2="255.5" stroke="#555" stroke-width="0.9"/>
<line x1="251.1" y1="239.5" x2="255.9" y2="239.5" stroke="#222" stroke-width="0.9"/>
<line x1="251.1" y1="255.5" x2="255.9" y2="255.5" stroke="#222" stroke-width="0.9"/>
<line x1="268.9" y1="242" x2="268.9" y2="258" stroke="#555" stroke-width="0.9"/>
<line x1="266.5" y1="242" x2="271.3" y2="242" stroke="#222" stroke-width="0.9"/>
<line x1="266.5" y1="258" x2="271.3" y2="258" stroke="#222" stroke-width="0.9"/>
<line x1="286.1" y1="248.6" x2="286.1" y2="259" stroke="#555" stroke-width="0.9"/>
<line x1="283.7" y1="248.6" x2="288.5" y2="248.6" stroke="#222" stroke-width="0.9"/>
<line x1="283.7" y1="259" x2="288.5" y2="259" stroke="#222" stroke-width="0.9"/>
<line x1="94.4" y1="214.6" x2="94.4" y2="230.6" stroke="#555" stroke-width="0.9"/>
<line x1="92" y1="214.6" x2="96.8" y2="214.6" stroke="#222" stroke-width="0.9"/>
<line x1="92" y1="230.6" x2="96.8" y2="230.6" stroke="#222" stroke-width="0.9"/>
<line x1="111.6" y1="220.3" x2="111.6" y2="240.3" stroke="#555" stroke-width="0.9"/>
<line x1="109.2" y1="220.3" x2="114" y2="220.3" stroke="#222" stroke-width="0.9"/>
<line x1="109.2" y1="240.3" x2="114" y2="240.3" stroke="#222" stroke-width="0.9"/>
<line x1="130.5" y1="195" x2="130.5" y2="216" stroke="#555" stroke-width="0.9"/>
<line x1="128.1" y1="195" x2="132.9" y2="195" stroke="#222" stroke-width="0.9"/>
<line x1="128.1" y1="216" x2="132.9" y2="216" stroke="#222" stroke-width="0.9"/>
<line x1="146" y1="212.2" x2="146" y2="230.2" stroke="#555" stroke-width="0.9"/>
<line x1="143.6" y1="212.2" x2="148.4" y2="212.2" stroke="#222" stroke-width="0.9"/>
<line x1="143.6" y1="230.2" x2="148.4" y2="230.2" stroke="#222" stroke-width="0.9"/>
<line x1="164.7" y1="201" x2="164.7" y2="217" stroke="#555" stroke-width="0.9"/>
<line x1="162.3" y1="201" x2="167.1" y2="201" stroke="#222" stroke-width="0.9"/>
<line x1="162.3" y1="217" x2="167.1" y2="217" stroke="#222" stroke-width="0.9"/>
<line x1="181.9" y1="259.3" x2="181.9" y2="281.7" stroke="#555" stroke-width="0.9"/>
<line x1="179.5" y1="259.3" x2="184.3" y2="259.3" stroke="#222" stroke-width="0.9"/>
<line x1="179.5" y1="281.7" x2="184.3" y2="281.7" stroke="#222" stroke-width="0.9"/>
<line x1="199" y1="216.3" x2="199" y2="234.3" stroke="#555" stroke-width="0.9"/>
<line x1="196.6" y1="216.3" x2="201.4" y2="216.3" stroke="#222" stroke-width="0.9"/>
<line x1="196.6" y1="234.3" x2="201.4" y2="234.3" stroke="#222" stroke-width="0.9"/>
<line x1="217.6" y1="209.2" x2="217.6" y2="225.2" stroke="#555" stroke-width="0.9"/>
<line x1="215.2" y1="209.2" x2="220" y2="209.2" stroke="#222" stroke-width="0.9"/>
<line x1="215.2" y1="225.2" x2="220" y2="225.2" stroke="#222" stroke-width="0.9"/>
<line x1="233.3" y1="186.5" x2="233.3" y2="229.5" stroke="#555" stroke-width="0.9"/>
<line x1="230.9" y1="186.5" x2="235.7" y2="186.5" stroke="#222" stroke-width="0.9"/>
<line x1="230.9" y1="229.5" x2="235.7" y2="229.5" stroke="#222" stroke-width="0.9"/>
<line x1="253.5" y1="229.7" x2="253.5" y2="245.5" stroke="#555" stroke-width="0.9"/>
<line x1="251.1" y1="229.7" x2="255.9" y2="229.7" stroke="#222" stroke-width="0.9"/>
<line x1="251.1" y1="245.5" x2="255.9" y2="245.5" stroke="#222" stroke-width="0.9"/>
<line x1="268.9" y1="240.7" x2="268.9" y2="256.7" stroke="#555" stroke-width="0.9"/>
<line x1="266.5" y1="240.7" x2="271.3" y2="240.7" stroke="#222" stroke-width="0.9"/>
<line x1="266.5" y1="256.7" x2="271.3" y2="256.7" stroke="#222" stroke-width="0.9"/>
<line x1="286.1" y1="226.9" x2="286.1" y2="242.9" stroke="#555" stroke-width="0.9"/>
<line x1="283.7" y1="226.9" x2="288.5" y2="226.9" stroke="#222" stroke-width="0.9"/>
<line x1="283.7" y1="242.9" x2="288.5" y2="242.9" stroke="#222" stroke-width="0.9"/>
<line x1="94.4" y1="222" x2="94.4" y2="238" stroke="#555" stroke-width="0.9"/>
<line x1="92" y1="222" x2="96.8" y2="222" stroke="#222" stroke-width="0.9"/>
<line x1="92" y1="238" x2="96.8" y2="238" stroke="#222" stroke-width="0.9"/>
<line x1="111.6" y1="242" x2="111.6" y2="258" stroke="#555" stroke-width="0.9"/>
<line x1="109.2" y1="242" x2="114" y2="242" stroke="#222" stroke-width="0.9"/>
<line x1="109.2" y1="258" x2="114" y2="258" stroke="#222" stroke-width="0.9"/>
<line x1="130.5" y1="227" x2="130.5" y2="243" stroke="#555" stroke-width="0.9"/>
<line x1="128.1" y1="227" x2="132.9" y2="227" stroke="#222" stroke-width="0.9"/>
<line x1="128.1" y1="243" x2="132.9" y2="243" stroke="#222" stroke-width="0.9"/>
<line x1="146" y1="230" x2="146" y2="246" stroke="#555" stroke-width="0.9"/>
<line x1="143.6" y1="230" x2="148.4" y2="230" stroke="#222" stroke-width="0.9"/>
<line x1="143.6" y1="246" x2="148.4" y2="246" stroke="#222" stroke-width="0.9"/>
<line x1="164.7" y1="204" x2="164.7" y2="220" stroke="#555" stroke-width="0.9"/>
<line x1="162.3" y1="204" x2="167.1" y2="204" stroke="#222" stroke-width="0.9"/>
<line x1="162.3" y1="220" x2="167.1" y2="220" stroke="#222" stroke-width="0.9"/>
<line x1="181.9" y1="237" x2="181.9" y2="253" stroke="#555" stroke-width="0.9"/>
<line x1="179.5" y1="237" x2="184.3" y2="237" stroke="#222" stroke-width="0.9"/>
<line x1="179.5" y1="253" x2="184.3" y2="253" stroke="#222" stroke-width="0.9"/>
<line x1="199" y1="227" x2="199" y2="243" stroke="#555" stroke-width="0.9"/>
<line x1="196.6" y1="227" x2="201.4" y2="227" stroke="#222" stroke-width="0.9"/>
<line x1="196.6" y1="243" x2="201.4" y2="243" stroke="#222" stroke-width="0.9"/>
<line x1="217.6" y1="220" x2="217.6" y2="236" stroke="#555" stroke-width="0.9"/>
<line x1="215.2" y1="220" x2="220" y2="220" stroke="#222" stroke-width="0.9"/>
<line x1="215.2" y1="236" x2="220" y2="236" stroke="#222" stroke-width="0.9"/>
<line x1="233.3" y1="229" x2="233.3" y2="245" stroke="#555" stroke-width="0.9"/>
<line x1="230.9" y1="229" x2="235.7" y2="229" stroke="#222" stroke-width="0.9"/>
<line x1="230.9" y1="245" x2="235.7" y2="245" stroke="#222" stroke-width="0.9"/>
<line x1="253.5" y1="265" x2="253.5" y2="281" stroke="#555" stroke-width="0.9"/>
<line x1="251.1" y1="265" x2="255.9" y2="265" stroke="#222" stroke-width="0.9"/>
<line x1="251.1" y1="281" x2="255.9" y2="281" stroke="#222" stroke-width="0.9"/>
<line x1="268.9" y1="250" x2="268.9" y2="266" stroke="#555" stroke-width="0.9"/>
<line x1="266.5" y1="250" x2="271.3" y2="250" stroke="#222" stroke-width="0.9"/>
<line x1="266.5" y1="266" x2="271.3" y2="266" stroke="#222" stroke-width="0.9"/>
<line x1="286.1" y1="246" x2="286.1" y2="262" stroke="#555" stroke-width="0.9"/>
<line x1="283.7" y1="246" x2="288.5" y2="246" stroke="#222" stroke-width="0.9"/>
<line x1="283.7" y1="262" x2="288.5" y2="262" stroke="#222" stroke-width="0.9"/>
<line x1="94.4" y1="218.5" x2="94.4" y2="234.5" stroke="#555" stroke-width="0.9"/>
<line x1="92" y1="218.5" x2="96.8" y2="218.5" stroke="#222" stroke-width="0.9"/>
<line x1="92" y1="234.5" x2="96.8" y2="234.5" stroke="#222" stroke-width="0.9"/>
<line x1="111.6" y1="239" x2="111.6" y2="255" stroke="#555" stroke-width="0.9"/>
<line x1="109.2" y1="239" x2="114" y2="239" stroke="#222" stroke-width="0.9"/>
<line x1="109.2" y1="255" x2="114" y2="255" stroke="#222" stroke-width="0.9"/>
<line x1="130.5" y1="215.2" x2="130.5" y2="231.2" stroke="#555" stroke-width="0.9"/>
<line x1="128.1" y1="215.2" x2="132.9" y2="215.2" stroke="#222" stroke-width="0.9"/>
<line x1="128.1" y1="231.2" x2="132.9" y2="231.2" stroke="#222" stroke-width="0.9"/>
<line x1="146" y1="210" x2="146" y2="226" stroke="#555" stroke-width="0.9"/>
<line x1="143.6" y1="210" x2="148.4" y2="210" stroke="#222" stroke-width="0.9"/>
<line x1="143.6" y1="226" x2="148.4" y2="226" stroke="#222" stroke-width="0.9"/>
<line x1="164.7" y1="202.1" x2="164.7" y2="218.1" stroke="#555" stroke-width="0.9"/>
<line x1="162.3" y1="202.1" x2="167.1" y2="202.1" stroke="#222" stroke-width="0.9"/>
<line x1="162.3" y1="218.1" x2="167.1" y2="218.1" stroke="#222" stroke-width="0.9"/>
<line x1="181.9" y1="229.1" x2="181.9" y2="245.1" stroke="#555" stroke-width="0.9"/>
<line x1="179.5" y1="229.1" x2="184.3" y2="229.1" stroke="#222" stroke-width="0.9"/>
<line x1="179.5" y1="245.1" x2="184.3" y2="245.1" stroke="#222" stroke-width="0.9"/>
<line x1="199" y1="220.6" x2="199" y2="236.6" stroke="#555" stroke-width="0.9"/>
<line x1="196.6" y1="220.6" x2="201.4" y2="220.6" stroke="#222" stroke-width="0.9"/>
<line x1="196.6" y1="236.6" x2="201.4" y2="236.6" stroke="#222" stroke-width="0.9"/>
<line x1="217.6" y1="214.1" x2="217.6" y2="230.1" stroke="#555" stroke-width="0.9"/>
<line x1="215.2" y1="214.1" x2="220" y2="214.1" stroke="#222" stroke-width="0.9"/>
<line x1="215.2" y1="230.1" x2="220" y2="230.1" stroke="#222" stroke-width="0.9"/>
<line x1="233.3" y1="224" x2="233.3" y2="248" stroke="#555" stroke-width="0.9"/>
<line x1="230.9" y1="224" x2="235.7" y2="224" stroke="#222" stroke-width="0.9"/>
<line x1="230.9" y1="248" x2="235.7" y2="248" stroke="#222" stroke-width="0.9"/>
<line x1="253.5" y1="256.4" x2="253.5" y2="294.4" stroke="#555" stroke-width="0.9"/>
<line x1="251.1" y1="256.4" x2="255.9" y2="256.4" stroke="#222" stroke-width="0.9"/>
<line x1="251.1" y1="294.4" x2="255.9" y2="294.4" stroke="#222" stroke-width="0.9"/>
<line x1="268.9" y1="238" x2="268.9" y2="254" stroke="#555" stroke-width="0.9"/>
<line x1="266.5" y1="238" x2="271.3" y2="238" stroke="#222" stroke-width="0.9"/>
<line x1="266.5" y1="254" x2="271.3" y2="254" stroke="#222" stroke-width="0.9"/>
<line x1="286.1" y1="235.5" x2="286.1" y2="251.5" stroke="#555" stroke-width="0.9"/>
<line x1="283.7" y1="235.5" x2="288.5" y2="235.5" stroke="#222" stroke-width="0.9"/>
<line x1="283.7" y1="251.5" x2="288.5" y2="251.5" stroke="#222" stroke-width="0.9"/>
<polyline points="94.4,218.9 111.6,246 130.5,210.5 146,230.3 164.7,188.2 181.9,252 199,236 217.6,233.3 233.3,206.3 253.5,249.5 268.9,236.6 286.1,236" fill="none" stroke="#111" stroke-width="0.9"/>
<polyline points="94.4,237.2 111.6,246.5 130.5,219.3 146,228 164.7,194 181.9,212.7 199,231.8 217.6,199.4 233.3,229 253.5,245.6 268.9,234.1 286.1,231.5" fill="none" stroke="#111" stroke-width="0.9"/>
<polyline points="94.4,227 111.6,257.5 130.5,233 146,243.7 164.7,211 181.9,252.2 199,238 217.6,239.3 233.3,237 253.5,247.5 268.9,250 286.1,253.8" fill="none" stroke="#111" stroke-width="0.9"/>
<polyline points="94.4,222.6 111.6,230.3 130.5,205.5 146,221.2 164.7,209 181.9,270.5 199,225.3 217.6,217.2 233.3,208 253.5,237.6 268.9,248.7 286.1,234.9" fill="none" stroke="#111" stroke-width="0.9"/>
<polyline points="94.4,230 111.6,250 130.5,235 146,238 164.7,212 181.9,245 199,235 217.6,228 233.3,237 253.5,273 268.9,258 286.1,254" fill="none" stroke="#111" stroke-width="0.9"/>
<polyline points="94.4,226.5 111.6,247 130.5,223.2 146,218 164.7,210.1 181.9,237.1 199,228.6 217.6,222.1 233.3,236 253.5,275.4 268.9,246 286.1,243.5" fill="none" stroke="#111" stroke-width="0.9"/>
<rect x="92.15" y="216.65" width="4.5" height="4.5" fill="#000000" stroke="#000" stroke-width="0.5"/>
<rect x="109.35" y="243.75" width="4.5" height="4.5" fill="#000000" stroke="#000" stroke-width="0.5"/>
<rect x="128.25" y="208.25" width="4.5" height="4.5" fill="#000000" stroke="#000" stroke-width="0.5"/>
<rect x="143.75" y="228.05" width="4.5" height="4.5" fill="#000000" stroke="#000" stroke-width="0.5"/>
<rect x="162.45" y="185.95" width="4.5" height="4.5" fill="#000000" stroke="#000" stroke-width="0.5"/>
<rect x="179.65" y="249.75" width="4.5" height="4.5" fill="#000000" stroke="#000" stroke-width="0.5"/>
<rect x="196.75" y="233.75" width="4.5" height="4.5" fill="#000000" stroke="#000" stroke-width="0.5"/>
<rect x="215.35" y="231.05" width="4.5" height="4.5" fill="#000000" stroke="#000" stroke-width="0.5"/>
<rect x="231.05" y="204.05" width="4.5" height="4.5" fill="#000000" stroke="#000" stroke-width="0.5"/>
<rect x="251.25" y="247.25" width="4.5" height="4.5" fill="#000000" stroke="#000" stroke-width="0.5"/>
<rect x="266.65" y="234.35" width="4.5" height="4.5" fill="#000000" stroke="#000" stroke-width="0.5"/>
<rect x="283.85" y="233.75" width="4.5" height="4.5" fill="#000000" stroke="#000" stroke-width="0.5"/>
<path d="M94.40 234.30L97.00 239.30L91.80 239.30Z" fill="#00f000"/>
<path d="M111.60 243.60L114.20 248.60L109.00 248.60Z" fill="#00f000"/>
<path d="M130.50 216.40L133.10 221.40L127.90 221.40Z" fill="#00f000"/>
<path d="M146.00 225.10L148.60 230.10L143.40 230.10Z" fill="#00f000"/>
<path d="M164.70 191.10L167.30 196.10L162.10 196.10Z" fill="#00f000"/>
<path d="M181.90 209.80L184.50 214.80L179.30 214.80Z" fill="#00f000"/>
<path d="M199.00 228.90L201.60 233.90L196.40 233.90Z" fill="#00f000"/>
<path d="M217.60 196.50L220.20 201.50L215.00 201.50Z" fill="#00f000"/>
<path d="M233.30 226.10L235.90 231.10L230.70 231.10Z" fill="#00f000"/>
<path d="M253.50 242.70L256.10 247.70L250.90 247.70Z" fill="#00f000"/>
<path d="M268.90 231.20L271.50 236.20L266.30 236.20Z" fill="#00f000"/>
<path d="M286.10 228.60L288.70 233.60L283.50 233.60Z" fill="#00f000"/>
<circle cx="94.4" cy="227" r="2.65" fill="#a2a2a2"/>
<circle cx="111.6" cy="257.5" r="2.65" fill="#a2a2a2"/>
<circle cx="130.5" cy="233" r="2.65" fill="#a2a2a2"/>
<circle cx="146" cy="243.7" r="2.65" fill="#a2a2a2"/>
<circle cx="164.7" cy="211" r="2.65" fill="#a2a2a2"/>
<circle cx="181.9" cy="252.2" r="2.65" fill="#a2a2a2"/>
<circle cx="199" cy="238" r="2.65" fill="#a2a2a2"/>
<circle cx="217.6" cy="239.3" r="2.65" fill="#a2a2a2"/>
<circle cx="233.3" cy="237" r="2.65" fill="#a2a2a2"/>
<circle cx="253.5" cy="247.5" r="2.65" fill="#a2a2a2"/>
<circle cx="268.9" cy="250" r="2.65" fill="#a2a2a2"/>
<circle cx="286.1" cy="253.8" r="2.65" fill="#a2a2a2"/>
<rect x="92.15" y="220.35" width="4.5" height="4.5" fill="#dd0a00" stroke="#500" stroke-width="0.5"/>
<rect x="109.35" y="228.05" width="4.5" height="4.5" fill="#dd0a00" stroke="#500" stroke-width="0.5"/>
<rect x="128.25" y="203.25" width="4.5" height="4.5" fill="#dd0a00" stroke="#500" stroke-width="0.5"/>
<rect x="143.75" y="218.95" width="4.5" height="4.5" fill="#dd0a00" stroke="#500" stroke-width="0.5"/>
<rect x="162.45" y="206.75" width="4.5" height="4.5" fill="#dd0a00" stroke="#500" stroke-width="0.5"/>
<rect x="179.65" y="268.25" width="4.5" height="4.5" fill="#dd0a00" stroke="#500" stroke-width="0.5"/>
<rect x="196.75" y="223.05" width="4.5" height="4.5" fill="#dd0a00" stroke="#500" stroke-width="0.5"/>
<rect x="215.35" y="214.95" width="4.5" height="4.5" fill="#dd0a00" stroke="#500" stroke-width="0.5"/>
<rect x="231.05" y="205.75" width="4.5" height="4.5" fill="#dd0a00" stroke="#500" stroke-width="0.5"/>
<rect x="251.25" y="235.35" width="4.5" height="4.5" fill="#dd0a00" stroke="#500" stroke-width="0.5"/>
<rect x="266.65" y="246.45" width="4.5" height="4.5" fill="#dd0a00" stroke="#500" stroke-width="0.5"/>
<rect x="283.85" y="232.65" width="4.5" height="4.5" fill="#dd0a00" stroke="#500" stroke-width="0.5"/>
<path d="M94.40 227.40L96.70 231.90L92.10 231.90Z" fill="#8a8a8a"/>
<path d="M111.60 247.40L113.90 251.90L109.30 251.90Z" fill="#8a8a8a"/>
<path d="M130.50 232.40L132.80 236.90L128.20 236.90Z" fill="#8a8a8a"/>
<path d="M146.00 235.40L148.30 239.90L143.70 239.90Z" fill="#8a8a8a"/>
<path d="M164.70 209.40L167.00 213.90L162.40 213.90Z" fill="#8a8a8a"/>
<path d="M181.90 242.40L184.20 246.90L179.60 246.90Z" fill="#8a8a8a"/>
<path d="M199.00 232.40L201.30 236.90L196.70 236.90Z" fill="#8a8a8a"/>
<path d="M217.60 225.40L219.90 229.90L215.30 229.90Z" fill="#8a8a8a"/>
<path d="M233.30 234.40L235.60 238.90L231.00 238.90Z" fill="#8a8a8a"/>
<path d="M253.50 270.40L255.80 274.90L251.20 274.90Z" fill="#8a8a8a"/>
<path d="M268.90 255.40L271.20 259.90L266.60 259.90Z" fill="#8a8a8a"/>
<path d="M286.10 251.40L288.40 255.90L283.80 255.90Z" fill="#8a8a8a"/>
<circle cx="94.4" cy="226.5" r="2.75" fill="#0000ff"/>
<circle cx="111.6" cy="247" r="2.75" fill="#0000ff"/>
<circle cx="130.5" cy="223.2" r="2.75" fill="#0000ff"/>
<circle cx="146" cy="218" r="2.75" fill="#0000ff"/>
<circle cx="164.7" cy="210.1" r="2.75" fill="#0000ff"/>
<circle cx="181.9" cy="237.1" r="2.75" fill="#0000ff"/>
<circle cx="199" cy="228.6" r="2.75" fill="#0000ff"/>
<circle cx="217.6" cy="222.1" r="2.75" fill="#0000ff"/>
<circle cx="233.3" cy="236" r="2.75" fill="#0000ff"/>
<circle cx="253.5" cy="275.4" r="2.75" fill="#0000ff"/>
<circle cx="268.9" cy="246" r="2.75" fill="#0000ff"/>
<circle cx="286.1" cy="243.5" r="2.75" fill="#0000ff"/>
<line x1="78.5" y1="16.5" x2="296.5" y2="16.5" stroke="#555" stroke-width="1"/>
<line x1="81" y1="16" x2="81" y2="305" stroke="#a5a5a5" stroke-width="1.6"/>
<line x1="296.5" y1="16" x2="296.5" y2="305" stroke="#a8a8a8" stroke-width="1.2"/>
<line x1="80" y1="160.5" x2="297" y2="160.5" stroke="#555" stroke-width="1"/>
<line x1="80" y1="304.5" x2="297" y2="304.5" stroke="#888" stroke-width="1.2"/>
<line x1="78" y1="45.6" x2="81" y2="45.6" stroke="#888" stroke-width="1"/>
<line x1="78" y1="74.67" x2="81" y2="74.67" stroke="#888" stroke-width="1"/>
<line x1="78" y1="103.75" x2="81" y2="103.75" stroke="#888" stroke-width="1"/>
<line x1="78" y1="132.82" x2="81" y2="132.82" stroke="#888" stroke-width="1"/>
<text x="70.9" y="21.82" font-size="15" text-anchor="end" fill="#111">200</text>
<text x="70.9" y="50.9" font-size="15" text-anchor="end" fill="#111">160</text>
<text x="70.9" y="79.97" font-size="15" text-anchor="end" fill="#111">120</text>
<text x="70.9" y="109.05" font-size="15" text-anchor="end" fill="#111">80</text>
<text x="70.9" y="138.12" font-size="15" text-anchor="end" fill="#111">40</text>
<line x1="78" y1="179.55" x2="81" y2="179.55" stroke="#888" stroke-width="1"/>
<text x="70.9" y="184.85" font-size="15" text-anchor="end" fill="#111">15</text>
<line x1="78" y1="209.2" x2="81" y2="209.2" stroke="#888" stroke-width="1"/>
<text x="70.9" y="214.5" font-size="15" text-anchor="end" fill="#111">10</text>
<line x1="78" y1="238.85" x2="81" y2="238.85" stroke="#888" stroke-width="1"/>
<text x="70.9" y="244.15" font-size="15" text-anchor="end" fill="#111">5</text>
<line x1="78" y1="268.5" x2="81" y2="268.5" stroke="#888" stroke-width="1"/>
<text x="70.9" y="273.8" font-size="15" text-anchor="end" fill="#111">0</text>
<line x1="78" y1="298.15" x2="81" y2="298.15" stroke="#888" stroke-width="1"/>
<text x="70.9" y="303.45" font-size="15" text-anchor="end" fill="#111">-5</text>
<text x="76.8" y="328" font-size="15" text-anchor="middle" fill="#111">6</text>
<line x1="132" y1="304.5" x2="132" y2="307" stroke="#777" stroke-width="1"/>
<line x1="132" y1="160.5" x2="132" y2="163" stroke="#777" stroke-width="1"/>
<text x="128" y="328" font-size="15" text-anchor="middle" fill="#111">7</text>
<line x1="185.2" y1="304.5" x2="185.2" y2="307" stroke="#777" stroke-width="1"/>
<line x1="185.2" y1="160.5" x2="185.2" y2="163" stroke="#777" stroke-width="1"/>
<text x="181.4" y="328" font-size="15" text-anchor="middle" fill="#111">8</text>
<line x1="238.5" y1="304.5" x2="238.5" y2="307" stroke="#777" stroke-width="1"/>
<line x1="238.5" y1="160.5" x2="238.5" y2="163" stroke="#777" stroke-width="1"/>
<text x="233.5" y="328" font-size="15" text-anchor="middle" fill="#111">9</text>
<line x1="289.6" y1="304.5" x2="289.6" y2="307" stroke="#777" stroke-width="1"/>
<line x1="289.6" y1="160.5" x2="289.6" y2="163" stroke="#777" stroke-width="1"/>
<text x="286" y="328" font-size="15" text-anchor="middle" fill="#111">10</text>
<text x="184.8" y="342" font-size="14.8" text-anchor="middle" fill="#111">Month</text>
<text x="82.8" y="31.3" font-size="15" text-anchor="start" fill="#111">(a)</text>
<text x="86.2" y="177.5" font-size="15" text-anchor="start" fill="#111">(c)</text>
<rect x="237.5" y="16.5" width="59" height="64.5" fill="#fff" stroke="#777" stroke-width="1"/>
<line x1="243" y1="27.6" x2="260" y2="27.6" stroke="#111" stroke-width="1"/>
<rect x="249.25" y="25.35" width="4.5" height="4.5" fill="#000000" stroke="#000" stroke-width="0.5"/>
<text x="264.5" y="30.4" font-size="7.8" text-anchor="start" fill="#000" stroke="#000" stroke-width="0.15">MN0</text>
<line x1="243" y1="36.2" x2="260" y2="36.2" stroke="#5a5a5a" stroke-width="1"/>
<path d="M251.50 33.30L254.10 38.30L248.90 38.30Z" fill="#00f000"/>
<text x="264.5" y="39" font-size="7.8" text-anchor="start" fill="#000" stroke="#000" stroke-width="0.15">MN75</text>
<line x1="243" y1="44.8" x2="260" y2="44.8" stroke="#6a6a6a" stroke-width="1"/>
<circle cx="251.5" cy="44.8" r="2.65" fill="#a2a2a2"/>
<text x="264.5" y="47.6" font-size="7.8" text-anchor="start" fill="#000" stroke="#000" stroke-width="0.15">MN150</text>
<line x1="243" y1="53.4" x2="260" y2="53.4" stroke="#222" stroke-width="1"/>
<rect x="249.25" y="51.15" width="4.5" height="4.5" fill="#dd0a00" stroke="#500" stroke-width="0.5"/>
<text x="264.5" y="56.2" font-size="7.8" text-anchor="start" fill="#000" stroke="#000" stroke-width="0.15">BN0</text>
<line x1="243" y1="62" x2="260" y2="62" stroke="#6a6a6a" stroke-width="1"/>
<path d="M251.50 59.40L253.80 63.90L249.20 63.90Z" fill="#8a8a8a"/>
<text x="264.5" y="64.8" font-size="7.8" text-anchor="start" fill="#000" stroke="#000" stroke-width="0.15">BN75</text>
<line x1="243" y1="70.7" x2="260" y2="70.7" stroke="#555" stroke-width="1"/>
<circle cx="251.5" cy="70.7" r="2.75" fill="#0000ff"/>
<text x="264.5" y="73.5" font-size="7.8" text-anchor="start" fill="#000" stroke="#000" stroke-width="0.15">BN150</text>
<text transform="translate(15.6,141.8) rotate(-90)" font-size="15" fill="#111">Soil CO</text>
<text transform="translate(18.9,92.6) rotate(-90)" font-size="12" fill="#111">2</text>
<text transform="translate(15.7,82.8) rotate(-90)" font-size="16" fill="#111">emission</text>
<text transform="translate(41.8,137.0) rotate(-90)" font-size="13" fill="#111">(</text>
<text transform="translate(43.7,130.0) rotate(-90)" font-size="14.3" fill="#111">mgC</text>
<text transform="translate(43.7,96.9) rotate(-90)" font-size="14.3" fill="#111">m</text>
<text transform="translate(36.5,85.5) rotate(-90)" font-size="15" fill="#111">−2</text>
<text transform="translate(43.7,64.8) rotate(-90)" font-size="15.2" fill="#111">h</text>
<text transform="translate(36.5,57.0) rotate(-90)" font-size="15" fill="#111">−1</text>
<text transform="translate(41.8,37.9) rotate(-90)" font-size="13" fill="#111">)</text>
<text transform="translate(20.8,287.0) rotate(-90)" font-size="15" fill="#111">Soil CH</text>
<text transform="translate(23.7,237.8) rotate(-90)" font-size="12" fill="#111">4</text>
<text transform="translate(20.8,228.8) rotate(-90)" font-size="16.2" fill="#111">uptake</text>
<text transform="translate(46.2,284.0) rotate(-90)" font-size="13" fill="#111">(</text>
<text transform="translate(48.0,277.0) rotate(-90)" font-size="14.3" fill="#111">μgC</text>
<text transform="translate(48.0,246.2) rotate(-90)" font-size="14.3" fill="#111">m</text>
<text transform="translate(41.8,235.0) rotate(-90)" font-size="15" fill="#111">−2</text>
<text transform="translate(48.0,216.4) rotate(-90)" font-size="15.2" fill="#111">h</text>
<text transform="translate(41.8,205.9) rotate(-90)" font-size="15" fill="#111">−1</text>
<text transform="translate(46.3,188.0) rotate(-90)" font-size="13" fill="#111">)</text>
<line x1="363.05" y1="71" x2="363.05" y2="90.4" stroke="#ccc" stroke-width="1.1"/>
<line x1="360.55" y1="71" x2="365.55" y2="71" stroke="#ccc" stroke-width="1.1"/>
<rect x="356.5" y="90.4" width="13.1" height="73" fill="#66c2a5" stroke="#444" stroke-width="0.8"/>
<line x1="384.5" y1="49.2" x2="384.5" y2="68.7" stroke="#555" stroke-width="1.1"/>
<line x1="382" y1="49.2" x2="387" y2="49.2" stroke="#555" stroke-width="1.1"/>
<rect x="378" y="68.7" width="13" height="94.7" fill="#fc8d62" stroke="#444" stroke-width="0.8"/>
<line x1="405.95" y1="74.4" x2="405.95" y2="93.2" stroke="#555" stroke-width="1.1"/>
<line x1="403.45" y1="74.4" x2="408.45" y2="74.4" stroke="#555" stroke-width="1.1"/>
<rect x="399.3" y="93.2" width="13.3" height="70.2" fill="#8da0cb" stroke="#444" stroke-width="0.8"/>
<line x1="470.85" y1="77.5" x2="470.85" y2="92.4" stroke="#555" stroke-width="1.1"/>
<line x1="468.35" y1="77.5" x2="473.35" y2="77.5" stroke="#555" stroke-width="1.1"/>
<rect x="464.2" y="92.4" width="13.3" height="71" fill="#66c2a5" stroke="#444" stroke-width="0.8"/>
<line x1="492.6" y1="76.4" x2="492.6" y2="94" stroke="#555" stroke-width="1.1"/>
<line x1="490.1" y1="76.4" x2="495.1" y2="76.4" stroke="#555" stroke-width="1.1"/>
<rect x="486.2" y="94" width="12.8" height="69.4" fill="#fc8d62" stroke="#444" stroke-width="0.8"/>
<line x1="514.15" y1="67.9" x2="514.15" y2="85.5" stroke="#555" stroke-width="1.1"/>
<line x1="511.65" y1="67.9" x2="516.65" y2="67.9" stroke="#555" stroke-width="1.1"/>
<rect x="507.5" y="85.5" width="13.3" height="77.9" fill="#8da0cb" stroke="#444" stroke-width="0.8"/>
<line x1="363.05" y1="192.2" x2="363.05" y2="201" stroke="#6a6a6a" stroke-width="1.1"/>
<line x1="360.55" y1="192.2" x2="365.55" y2="192.2" stroke="#444" stroke-width="1.1"/>
<rect x="356.5" y="201" width="13.1" height="105" fill="#66c2a5" stroke="#444" stroke-width="0.8"/>
<line x1="384.5" y1="182.6" x2="384.5" y2="192.5" stroke="#6a6a6a" stroke-width="1.1"/>
<line x1="382" y1="182.6" x2="387" y2="182.6" stroke="#444" stroke-width="1.1"/>
<rect x="378" y="192.5" width="13" height="113.5" fill="#fc8d62" stroke="#444" stroke-width="0.8"/>
<line x1="405.95" y1="224.6" x2="405.95" y2="235.8" stroke="#6a6a6a" stroke-width="1.1"/>
<line x1="403.45" y1="224.6" x2="408.45" y2="224.6" stroke="#444" stroke-width="1.1"/>
<rect x="399.3" y="235.8" width="13.3" height="70.2" fill="#8da0cb" stroke="#444" stroke-width="0.8"/>
<line x1="470.85" y1="192.2" x2="470.85" y2="201.6" stroke="#6a6a6a" stroke-width="1.1"/>
<line x1="468.35" y1="192.2" x2="473.35" y2="192.2" stroke="#444" stroke-width="1.1"/>
<rect x="464.2" y="201.6" width="13.3" height="104.4" fill="#66c2a5" stroke="#444" stroke-width="0.8"/>
<line x1="492.6" y1="218.8" x2="492.6" y2="227.3" stroke="#6a6a6a" stroke-width="1.1"/>
<line x1="490.1" y1="218.8" x2="495.1" y2="218.8" stroke="#444" stroke-width="1.1"/>
<rect x="486.2" y="227.3" width="12.8" height="78.7" fill="#fc8d62" stroke="#444" stroke-width="0.8"/>
<line x1="514.4" y1="204.8" x2="514.4" y2="216.3" stroke="#6a6a6a" stroke-width="1.1"/>
<line x1="511.9" y1="204.8" x2="516.9" y2="204.8" stroke="#444" stroke-width="1.1"/>
<rect x="507.8" y="216.3" width="13.2" height="89.7" fill="#8da0cb" stroke="#444" stroke-width="0.8"/>
<text x="362.7" y="188.8" font-size="14.5" text-anchor="middle" fill="#111">a</text>
<text x="384.4" y="181.5" font-size="14.5" text-anchor="middle" fill="#111">a</text>
<text x="406.5" y="220.9" font-size="14.5" text-anchor="middle" fill="#111">b</text>
<text x="469.9" y="188.8" font-size="14.5" text-anchor="middle" fill="#111">a</text>
<text x="492.1" y="215.2" font-size="14.5" text-anchor="middle" fill="#111">a</text>
<text x="513.5" y="202.5" font-size="14.5" text-anchor="middle" fill="#111">a</text>
<text transform="translate(363.3,269.4) scale(0.84,1)" font-size="16.3" text-anchor="middle" fill="#111">A</text>
<text transform="translate(385.1,269.4) scale(0.84,1)" font-size="16.3" text-anchor="middle" fill="#111">A</text>
<text transform="translate(406,269.4) scale(0.84,1)" font-size="16.3" text-anchor="middle" fill="#111">A</text>
<text transform="translate(470.5,266.4) scale(0.84,1)" font-size="16.3" text-anchor="middle" fill="#111">A</text>
<text transform="translate(493.1,265.0) scale(0.84,1)" font-size="16.3" text-anchor="middle" fill="#111">B</text>
<text transform="translate(514.3,263.0) scale(0.84,1)" font-size="16.3" text-anchor="middle" fill="#111">A</text>
<line x1="330.5" y1="20.5" x2="547" y2="20.5" stroke="#8a8a8a" stroke-width="1"/>
<line x1="330.5" y1="20" x2="330.5" y2="306.5" stroke="#888" stroke-width="1.2"/>
<line x1="546.5" y1="20" x2="546.5" y2="306.5" stroke="#888" stroke-width="1.2"/>
<line x1="330" y1="163.5" x2="547" y2="163.5" stroke="#777" stroke-width="1.2"/>
<line x1="330" y1="306" x2="547" y2="306" stroke="#888" stroke-width="1.2"/>
<text x="320.5" y="25.6" font-size="15" text-anchor="end" fill="#111">100</text>
<line x1="328" y1="49.3" x2="330.5" y2="49.3" stroke="#888" stroke-width="1"/>
<text x="320.5" y="54.6" font-size="15" text-anchor="end" fill="#111">80</text>
<line x1="328" y1="78.3" x2="330.5" y2="78.3" stroke="#888" stroke-width="1"/>
<text x="320.5" y="83.6" font-size="15" text-anchor="end" fill="#111">60</text>
<line x1="328" y1="107.3" x2="330.5" y2="107.3" stroke="#888" stroke-width="1"/>
<text x="320.5" y="112.6" font-size="15" text-anchor="end" fill="#111">40</text>
<line x1="328" y1="136.3" x2="330.5" y2="136.3" stroke="#888" stroke-width="1"/>
<text x="320.5" y="141.6" font-size="15" text-anchor="end" fill="#111">20</text>
<line x1="328" y1="177.6" x2="330.5" y2="177.6" stroke="#888" stroke-width="1"/>
<text x="320.5" y="182.9" font-size="15" text-anchor="end" fill="#111">8</text>
<line x1="328" y1="209.7" x2="330.5" y2="209.7" stroke="#888" stroke-width="1"/>
<text x="320.5" y="215" font-size="15" text-anchor="end" fill="#111">6</text>
<line x1="328" y1="241.8" x2="330.5" y2="241.8" stroke="#888" stroke-width="1"/>
<text x="320.5" y="247.1" font-size="15" text-anchor="end" fill="#111">4</text>
<line x1="328" y1="273.9" x2="330.5" y2="273.9" stroke="#888" stroke-width="1"/>
<text x="320.5" y="279.2" font-size="15" text-anchor="end" fill="#111">2</text>
<line x1="328" y1="306" x2="330.5" y2="306" stroke="#888" stroke-width="1"/>
<text x="320.5" y="311.3" font-size="15" text-anchor="end" fill="#111">0</text>
<line x1="384.5" y1="163.5" x2="384.5" y2="166" stroke="#777" stroke-width="1"/>
<line x1="492.5" y1="163.5" x2="492.5" y2="166" stroke="#777" stroke-width="1"/>
<text x="382.5" y="327.6" font-size="14.5" text-anchor="middle" fill="#111">M</text>
<text x="492.6" y="327.6" font-size="14.5" text-anchor="middle" fill="#111">B</text>
<text x="408.6" y="343.5" font-size="15" text-anchor="start" fill="#111">Treatment</text>
<text x="334.3" y="37.7" font-size="15" text-anchor="start" fill="#111">(b)NS</text>
<text x="334.6" y="181.5" font-size="15" text-anchor="start" fill="#111">(d)</text>
<rect x="487.8" y="21" width="57.5" height="41.2" fill="#fff" stroke="#777" stroke-width="1"/>
<rect x="493.5" y="30.5" width="19.2" height="4" fill="#66c2a5" stroke="#555" stroke-width="0.7"/>
<text x="517" y="35.5" font-size="8.6" text-anchor="start" fill="#111">N0</text>
<rect x="493.5" y="40.1" width="19.2" height="4" fill="#fc8d62" stroke="#555" stroke-width="0.7"/>
<text x="517" y="45.1" font-size="8.6" text-anchor="start" fill="#111">N75</text>
<rect x="493.5" y="49.6" width="19.2" height="4" fill="#8da0cb" stroke="#555" stroke-width="0.7"/>
<text x="517" y="54.6" font-size="8.6" text-anchor="start" fill="#111">N150</text>
</svg>
</body></html>
